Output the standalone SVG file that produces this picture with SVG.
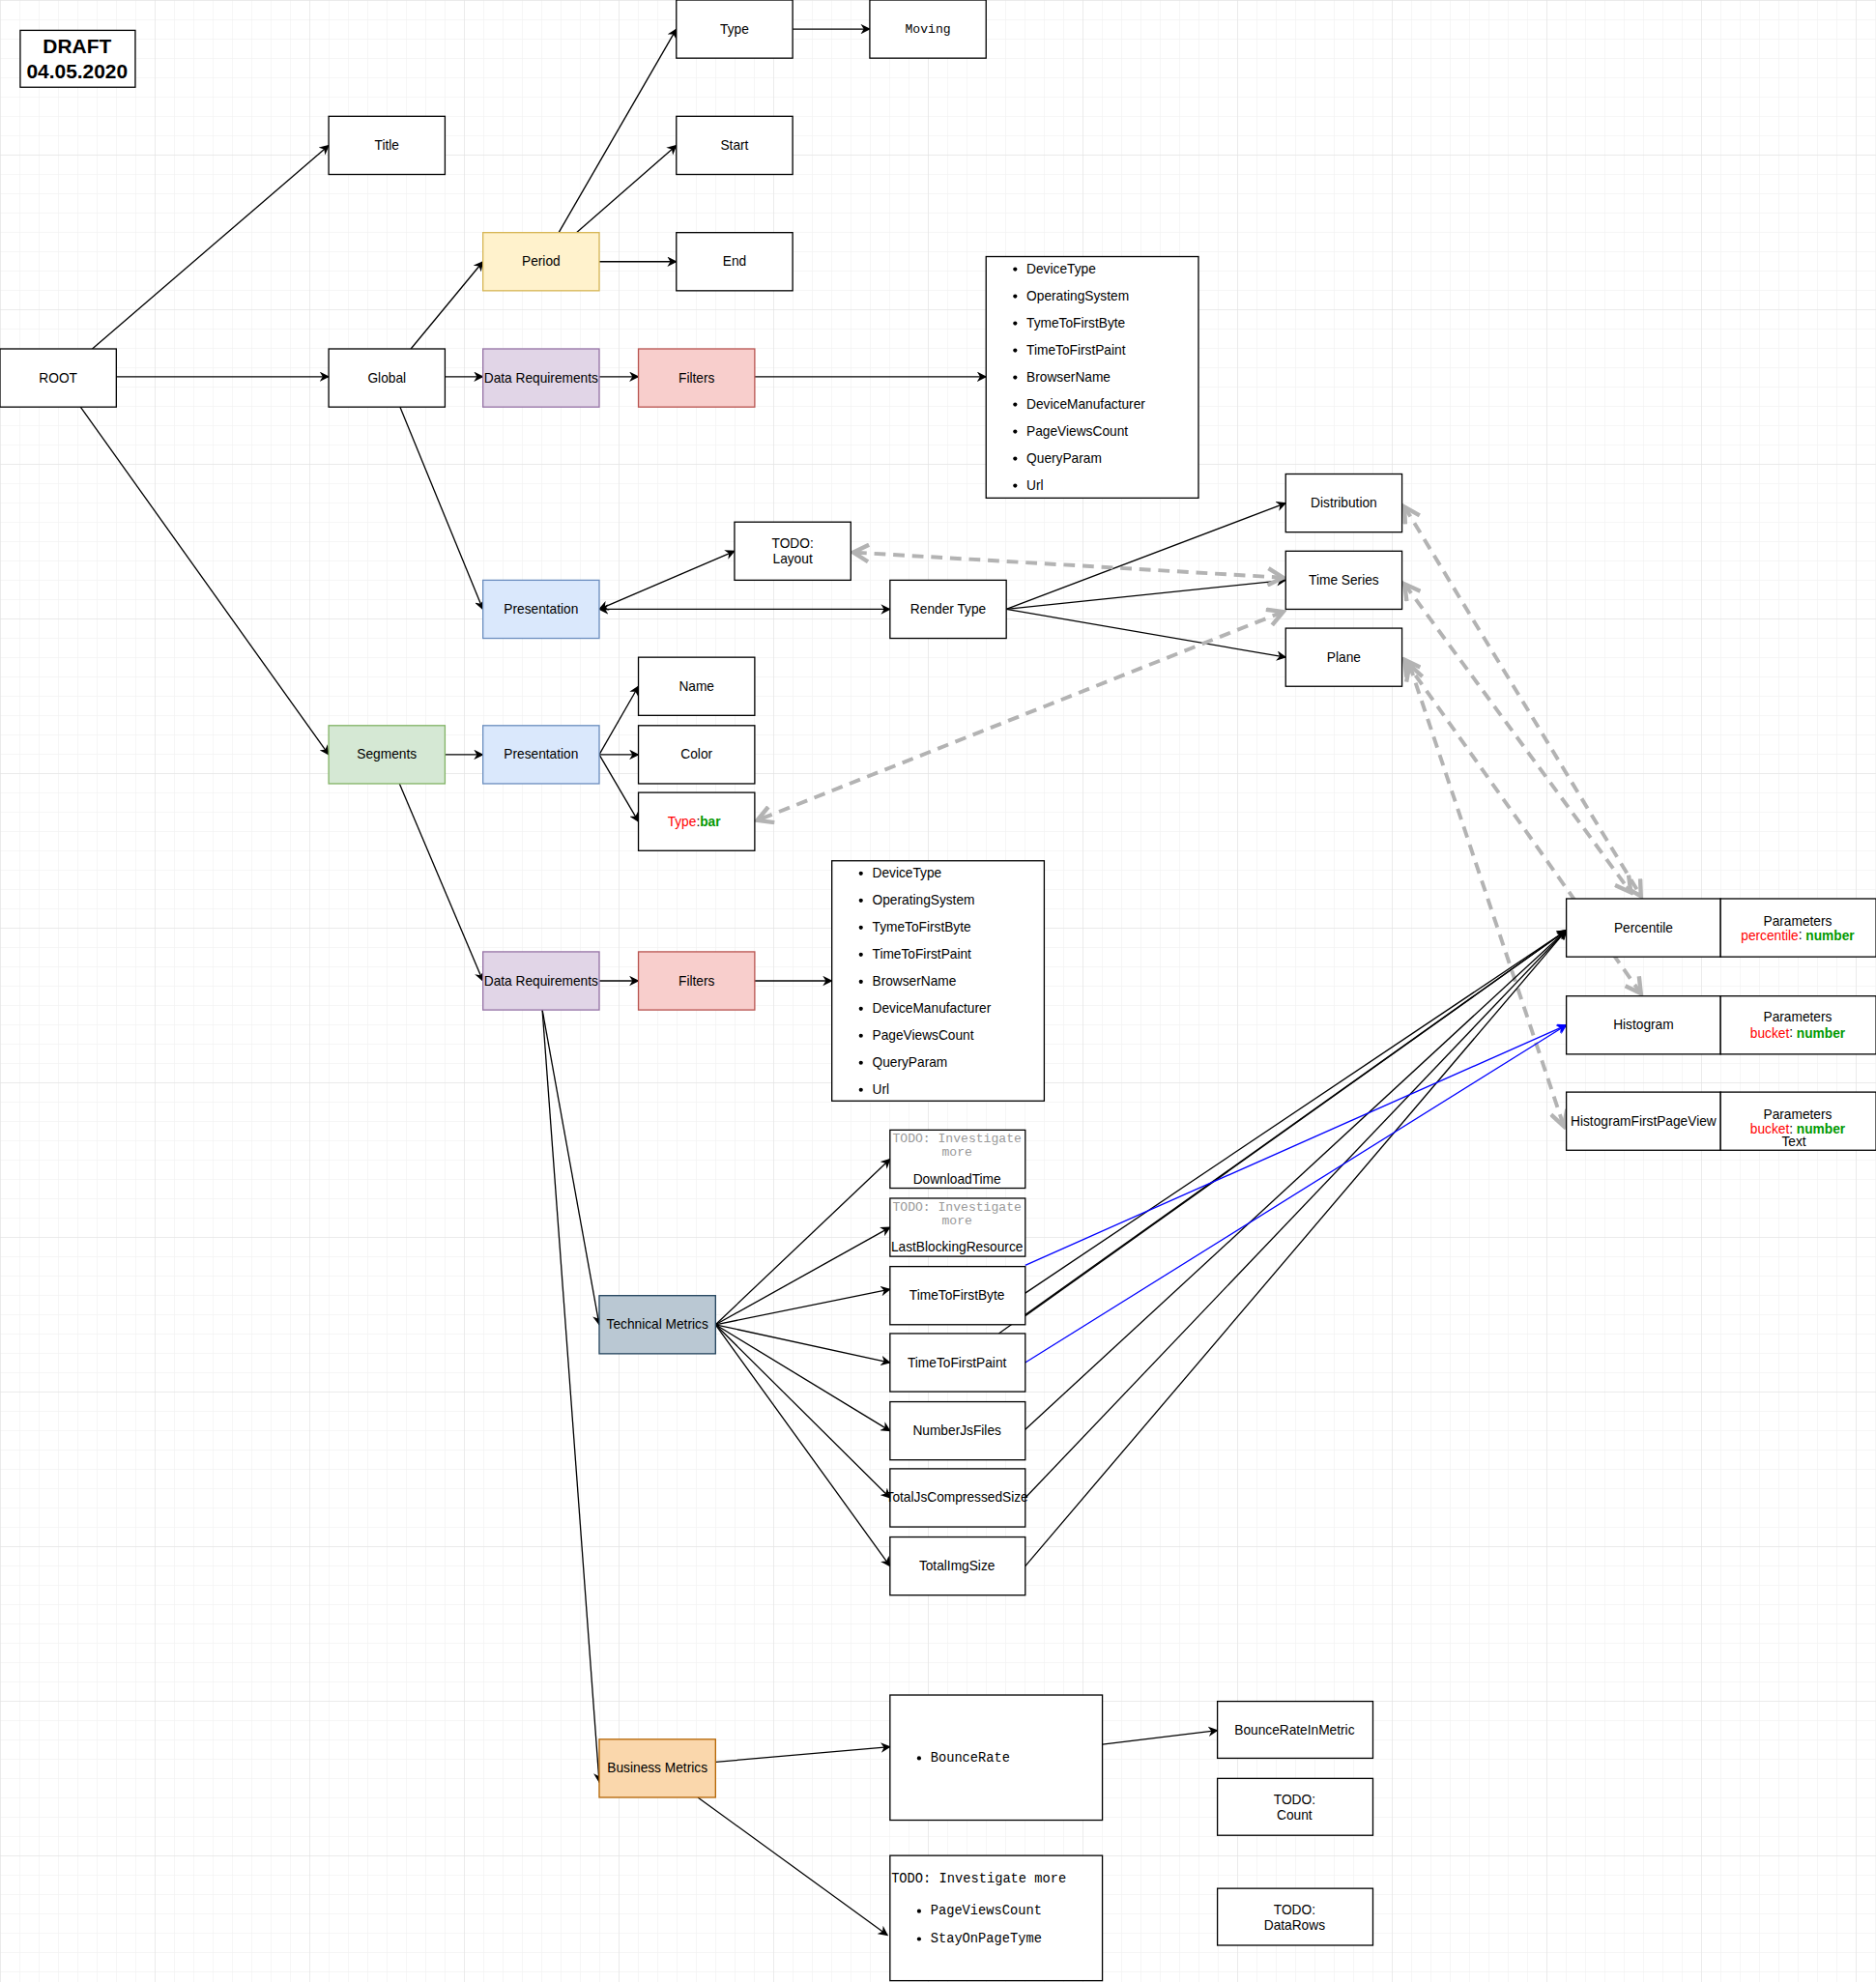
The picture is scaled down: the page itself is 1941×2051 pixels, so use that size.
<svg xmlns="http://www.w3.org/2000/svg" width="1941" height="2051" viewBox="0 0 1941 2051">
<defs>
<pattern id="grid" width="20" height="20" patternUnits="userSpaceOnUse"><path d="M20 0H0V20" fill="none" stroke="#eeeeee" stroke-width="1"/></pattern>
<pattern id="gridM" width="160" height="160" patternUnits="userSpaceOnUse"><path d="M160 0H0V160" fill="none" stroke="#e0e0e0" stroke-width="1"/></pattern>
<marker id="a" viewBox="0 0 10 10" refX="9" refY="5" markerWidth="8" markerHeight="8" markerUnits="userSpaceOnUse" orient="auto-start-reverse"><path d="M0,0 L10,5 L0,10 L3,5z" fill="#000"/></marker>
<marker id="ab" viewBox="0 0 10 10" refX="9" refY="5" markerWidth="8" markerHeight="8" markerUnits="userSpaceOnUse" orient="auto-start-reverse"><path d="M0,0 L10,5 L0,10 L3,5z" fill="#0000ff"/></marker>
<marker id="ag" viewBox="0 0 12 12" refX="10" refY="6" markerWidth="16" markerHeight="16" markerUnits="userSpaceOnUse" orient="auto-start-reverse"><path d="M1,1 L10,6 L1,11" fill="none" stroke="#b3b3b3" stroke-width="2.5"/></marker>
</defs>
<style>
text{font-family:"Liberation Sans",Arial,sans-serif;font-size:10.5px;fill:#000;text-anchor:middle;dominant-baseline:central}
.m{font-family:"Liberation Mono","DejaVu Sans Mono",monospace;font-size:10px}
.g{fill:#999}
.l{text-anchor:start;font-size:10.5px}
.r{fill:#ff0000}.gr{fill:#009900;font-weight:bold}
rect{fill:#fff;stroke:#000;stroke-width:1}
.c path,.c line{fill:none;stroke:#000;stroke-width:1;marker-end:url(#a)}
.c .b{stroke:#0000ff;marker-end:url(#ab)}
.c .d{stroke:#b3b3b3;stroke-width:3;stroke-dasharray:9 6;marker-end:url(#ag);marker-start:url(#ag)}
</style>
<rect width="1941" height="2051" style="fill:#fff;stroke:none"/>
<rect width="1941" height="2051" style="fill:url(#grid);stroke:none"/>
<rect width="1941" height="2051" style="fill:url(#gridM);stroke:none"/>
<g transform="scale(1.308)">
<g id="connectors" class="c">
<line x1="73" y1="276" x2="260" y2="115"/>
<line x1="92" y1="298" x2="260" y2="298"/>
<line x1="63" y1="321" x2="260" y2="597"/>
<line x1="325" y1="276" x2="382" y2="207"/>
<line x1="352" y1="298" x2="382" y2="298"/>
<line x1="316" y1="321" x2="382" y2="482"/>
<line x1="442" y1="184" x2="535" y2="23"/>
<line x1="456" y1="184" x2="535" y2="115"/>
<line x1="474" y1="207" x2="535" y2="207"/>
<line x1="627" y1="23" x2="688" y2="23"/>
<line x1="474" y1="298" x2="505" y2="298"/>
<line x1="597" y1="298" x2="780" y2="298"/>
<line x1="474" y1="482" x2="581" y2="436" style="marker-start:url(#a)"/>
<line x1="474" y1="482" x2="704" y2="482" style="marker-start:url(#a)"/>
<line x1="796" y1="482" x2="1017" y2="398"/>
<line x1="796" y1="482" x2="1017" y2="459"/>
<line x1="796" y1="482" x2="1017" y2="520"/>
<line class="d" x1="1015" y1="457" x2="675" y2="437"/>
<line class="d" x1="1015" y1="484" x2="599" y2="649"/>
<line class="d" x1="1111" y1="401" x2="1298" y2="709"/>
<line class="d" x1="1111" y1="462" x2="1290" y2="706"/>
<line class="d" x1="1111" y1="522" x2="1298" y2="786"/>
<line class="d" x1="1115" y1="526" x2="1237" y2="891"/>
<line x1="352" y1="597" x2="382" y2="597"/>
<line x1="316" y1="620" x2="382" y2="776"/>
<line x1="474" y1="597" x2="505" y2="543"/>
<line x1="474" y1="597" x2="505" y2="597"/>
<line x1="474" y1="597" x2="505" y2="650"/>
<line x1="474" y1="776" x2="505" y2="776"/>
<line x1="597" y1="776" x2="658" y2="776"/>
<line x1="429" y1="799" x2="474" y2="1048"/>
<line x1="429" y1="799" x2="474" y2="1410"/>
<line x1="566" y1="1048" x2="704" y2="917"/>
<line x1="566" y1="1048" x2="704" y2="971"/>
<line x1="566" y1="1048" x2="704" y2="1020"/>
<line x1="566" y1="1048" x2="704" y2="1078"/>
<line x1="566" y1="1048" x2="704" y2="1132"/>
<line x1="566" y1="1048" x2="704" y2="1185"/>
<line x1="566" y1="1048" x2="704" y2="1239"/>
<line x1="566" y1="1394" x2="704" y2="1382"/>
<line x1="552" y1="1422" x2="702" y2="1531"/>
<line x1="872" y1="1380" x2="963" y2="1369"/>
<line x1="811" y1="1023" x2="1239" y2="736"/>
<line x1="811" y1="1041" x2="1239" y2="736"/>
<line x1="790" y1="1055" x2="1239" y2="736"/>
<line x1="811" y1="1131" x2="1239" y2="736"/>
<line x1="811" y1="1185" x2="1239" y2="736"/>
<line x1="811" y1="1239" x2="1239" y2="736"/>
<line class="b" x1="811" y1="1001" x2="1239" y2="811"/>
<line class="b" x1="811" y1="1078" x2="1239" y2="811"/>
</g>
<g id="draft"><rect x="16" y="24" width="91" height="45"/><text x="61" y="36" style="font-size:16px;font-weight:bold">DRAFT</text><text x="61" y="56" style="font-size:16px;font-weight:bold">04.05.2020</text></g>
<g id="title"><rect x="260" y="92" width="92" height="46"/><text x="306" y="115">Title</text></g>
<g id="type"><rect x="535" y="0" width="92" height="46"/><text x="581" y="23">Type</text></g>
<g id="moving"><rect x="688" y="0" width="92" height="46"/><text class="m" x="734" y="23">Moving</text></g>
<g id="start"><rect x="535" y="92" width="92" height="46"/><text x="581" y="115">Start</text></g>
<g id="end"><rect x="535" y="184" width="92" height="46"/><text x="581" y="207">End</text></g>
<g id="period"><rect x="382" y="184" width="92" height="46" style="fill:#fff2cc;stroke:#d6b656"/><text x="428" y="207">Period</text></g>
<g id="root"><rect x="0" y="276" width="92" height="46"/><text x="46" y="299">ROOT</text></g>
<g id="global"><rect x="260" y="276" width="92" height="46"/><text x="306" y="299">Global</text></g>
<g id="datareq"><rect x="382" y="276" width="92" height="46" style="fill:#e1d5e7;stroke:#9673a6"/><text x="428" y="299">Data Requirements</text></g>
<g id="filters"><rect x="505" y="276" width="92" height="46" style="fill:#f8cecc;stroke:#b85450"/><text x="551" y="299">Filters</text></g>
<g id="list1"><rect x="780" y="203" width="168" height="191"/>
<g transform="translate(780,213)">
<circle cx="23" cy="0" r="1.6"/><text class="l" x="32" y="0">DeviceType</text>
<circle cx="23" cy="21.4" r="1.6"/><text class="l" x="32" y="21.4">OperatingSystem</text>
<circle cx="23" cy="42.8" r="1.6"/><text class="l" x="32" y="42.8">TymeToFirstByte</text>
<circle cx="23" cy="64.2" r="1.6"/><text class="l" x="32" y="64.2">TimeToFirstPaint</text>
<circle cx="23" cy="85.6" r="1.6"/><text class="l" x="32" y="85.6">BrowserName</text>
<circle cx="23" cy="107" r="1.6"/><text class="l" x="32" y="107">DeviceManufacturer</text>
<circle cx="23" cy="128.4" r="1.6"/><text class="l" x="32" y="128.4">PageViewsCount</text>
<circle cx="23" cy="149.8" r="1.6"/><text class="l" x="32" y="149.8">QueryParam</text>
<circle cx="23" cy="171.2" r="1.6"/><text class="l" x="32" y="171.2">Url</text>
</g></g>
<g id="todolayout"><rect x="581" y="413" width="92" height="46"/><text x="627" y="430">TODO:</text><text x="627" y="442">Layout</text></g>
<g id="presentation"><rect x="382" y="459" width="92" height="46" style="fill:#dae8fc;stroke:#6c8ebf"/><text x="428" y="482">Presentation</text></g>
<g id="rendertype"><rect x="704" y="459" width="92" height="46"/><text x="750" y="482">Render Type</text></g>
<g id="distribution"><rect x="1017" y="375" width="92" height="46"/><text x="1063" y="398">Distribution</text></g>
<g id="timeseries"><rect x="1017" y="436" width="92" height="46"/><text x="1063" y="459">Time Series</text></g>
<g id="plane"><rect x="1017" y="497" width="92" height="46"/><text x="1063" y="520">Plane</text></g>
<g id="segments"><rect x="260" y="574" width="92" height="46" style="fill:#d5e8d4;stroke:#82b366"/><text x="306" y="597">Segments</text></g>
<g id="presentation2"><rect x="382" y="574" width="92" height="46" style="fill:#dae8fc;stroke:#6c8ebf"/><text x="428" y="597">Presentation</text></g>
<g id="name"><rect x="505" y="520" width="92" height="46"/><text x="551" y="543">Name</text></g>
<g id="color"><rect x="505" y="574" width="92" height="46"/><text x="551" y="597">Color</text></g>
<g id="typebar"><rect x="505" y="627" width="92" height="46"/><text x="549" y="650"><tspan class="r">Type</tspan>:<tspan class="gr">bar</tspan></text></g>
<g id="list2"><rect x="658" y="681" width="168" height="190"/>
<g transform="translate(658,691)">
<circle cx="23" cy="0" r="1.6"/><text class="l" x="32" y="0">DeviceType</text>
<circle cx="23" cy="21.4" r="1.6"/><text class="l" x="32" y="21.4">OperatingSystem</text>
<circle cx="23" cy="42.8" r="1.6"/><text class="l" x="32" y="42.8">TymeToFirstByte</text>
<circle cx="23" cy="64.2" r="1.6"/><text class="l" x="32" y="64.2">TimeToFirstPaint</text>
<circle cx="23" cy="85.6" r="1.6"/><text class="l" x="32" y="85.6">BrowserName</text>
<circle cx="23" cy="107" r="1.6"/><text class="l" x="32" y="107">DeviceManufacturer</text>
<circle cx="23" cy="128.4" r="1.6"/><text class="l" x="32" y="128.4">PageViewsCount</text>
<circle cx="23" cy="149.8" r="1.6"/><text class="l" x="32" y="149.8">QueryParam</text>
<circle cx="23" cy="171.2" r="1.6"/><text class="l" x="32" y="171.2">Url</text>
</g></g>
<g id="datareq2"><rect x="382" y="753" width="92" height="46" style="fill:#e1d5e7;stroke:#9673a6"/><text x="428" y="776">Data Requirements</text></g>
<g id="filters2"><rect x="505" y="753" width="92" height="46" style="fill:#f8cecc;stroke:#b85450"/><text x="551" y="776">Filters</text></g>
<g id="percentile"><rect x="1239" y="711" width="122" height="46"/><text x="1300" y="734">Percentile</text><rect x="1361" y="711" width="123" height="46"/><text x="1422" y="729">Parameters</text><text x="1422" y="740"><tspan class="r">percentile</tspan>: <tspan class="gr">number</tspan></text></g>
<g id="histogram"><rect x="1239" y="788" width="122" height="46"/><text x="1300" y="811">Histogram</text><rect x="1361" y="788" width="123" height="46"/><text x="1422" y="805">Parameters</text><text x="1422" y="817"><tspan class="r">bucket</tspan>: <tspan class="gr">number</tspan></text></g>
<g id="histfpv"><rect x="1239" y="864" width="122" height="46"/><text x="1300" y="887">HistogramFirstPageView</text><rect x="1361" y="864" width="123" height="46"/><text x="1422" y="882">Parameters</text><text x="1422" y="893"><tspan class="r">bucket</tspan>: <tspan class="gr">number</tspan></text><text x="1419" y="903">Text</text></g>
<g id="downloadtime"><rect x="704" y="894" width="107" height="46"/><text class="m g" x="757" y="901">TODO: Investigate</text><text class="m g" x="757" y="912">more</text><text x="757" y="933">DownloadTime</text></g>
<g id="lastblocking"><rect x="704" y="948" width="107" height="46"/><text class="m g" x="757" y="955">TODO: Investigate</text><text class="m g" x="757" y="966">more</text><text x="757" y="987">LastBlockingResource</text></g>
<g id="ttfb"><rect x="704" y="1002" width="107" height="46"/><text x="757" y="1025">TimeToFirstByte</text></g>
<g id="ttfp"><rect x="704" y="1055" width="107" height="46"/><text x="757" y="1078">TimeToFirstPaint</text></g>
<g id="numberjs"><rect x="704" y="1109" width="107" height="46"/><text x="757" y="1132">NumberJsFiles</text></g>
<g id="totaljs"><rect x="704" y="1162" width="107" height="46"/><text x="757" y="1185">TotalJsCompressedSize</text></g>
<g id="totalimg"><rect x="704" y="1216" width="107" height="46"/><text x="757" y="1239">TotalImgSize</text></g>
<g id="technical"><rect x="474" y="1025" width="92" height="46" style="fill:#bac8d3;stroke:#23445d"/><text x="520" y="1048">Technical Metrics</text></g>
<g id="business"><rect x="474" y="1376" width="92" height="46" style="fill:#fad7ac;stroke:#b46504"/><text x="520" y="1399">Business Metrics</text></g>
<g id="bouncerate"><rect x="704" y="1341" width="168" height="99"/><circle cx="727" cy="1391" r="1.6"/><text class="m l" x="736" y="1391">BounceRate</text></g>
<g id="investigate"><rect x="704" y="1468" width="168" height="99"/><text class="m l" x="705" y="1487">TODO: Investigate more</text><circle cx="727" cy="1512" r="1.6"/><text class="m l" x="736" y="1512">PageViewsCount</text><circle cx="727" cy="1534" r="1.6"/><text class="m l" x="736" y="1534">StayOnPageTyme</text></g>
<g id="bounceinmetric"><rect x="963" y="1346" width="123" height="45"/><text x="1024" y="1369">BounceRateInMetric</text></g>
<g id="todocount"><rect x="963" y="1407" width="123" height="45"/><text x="1024" y="1424">TODO:</text><text x="1024" y="1436">Count</text></g>
<g id="tododatarows"><rect x="963" y="1494" width="123" height="45"/><text x="1024" y="1511">TODO:</text><text x="1024" y="1523">DataRows</text></g>
</g>
</svg>
